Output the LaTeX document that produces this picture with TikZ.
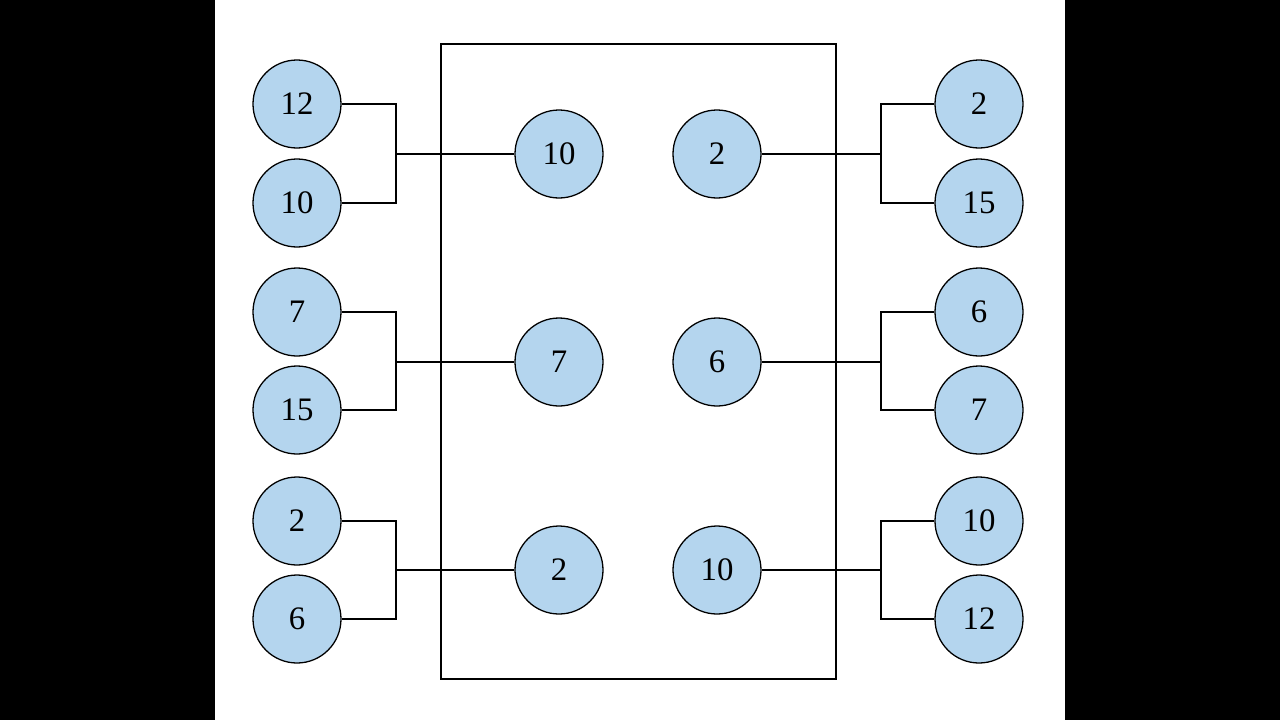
\documentclass[tikz,border=0pt]{standalone}
\usepackage{fontspec}
\setmainfont{Liberation Serif}
\begin{document}
\begin{tikzpicture}[x=0.03cm,y=-0.03cm,
  nd/.style={circle,draw=black,line width=1.1pt,fill=nodeblue,minimum size=2.64cm,inner sep=0pt,font=\fontsize{28}{28}\selectfont},
  ln/.style={line width=1.6pt}]
\definecolor{nodeblue}{RGB}{180,213,238}
\fill[black] (0,0) rectangle (1280,720);
\fill[white] (215,0) rectangle (1065,720);
\useasboundingbox (0,0) rectangle (1280,720);
\draw[ln] (441,44) rectangle (836,679);
\foreach \n/\y/\t in {l1/104/12,l2/203/10,l3/312/7,l4/410/15,l5/521/2,l6/619/6}
  \node[nd] (\n) at (297,\y) {\t};
\foreach \n/\y/\t in {r1/104/2,r2/203/15,r3/312/6,r4/410/7,r5/521/10,r6/619/12}
  \node[nd] (\n) at (979,\y) {\t};
\foreach \n/\y/\t in {a1/154/10,a2/362/7,a3/570/2}
  \node[nd] (\n) at (559,\y) {\t};
\foreach \n/\y/\t in {b1/154/2,b2/362/6,b3/570/10}
  \node[nd] (\n) at (717,\y) {\t};
\foreach \u/\v/\w in {l1/l2/a1,l3/l4/a2,l5/l6/a3}{
  \draw[ln] (\u.east) -| (396,0 |- \w.west) -- (\w.west);
  \draw[ln] (\v.east) -| (396,0 |- \w.west);
}
\foreach \u/\v/\w in {r1/r2/b1,r3/r4/b2,r5/r6/b3}{
  \draw[ln] (\u.west) -| (881,0 |- \w.east) -- (\w.east);
  \draw[ln] (\v.west) -| (881,0 |- \w.east);
}
\end{tikzpicture}
\end{document}
